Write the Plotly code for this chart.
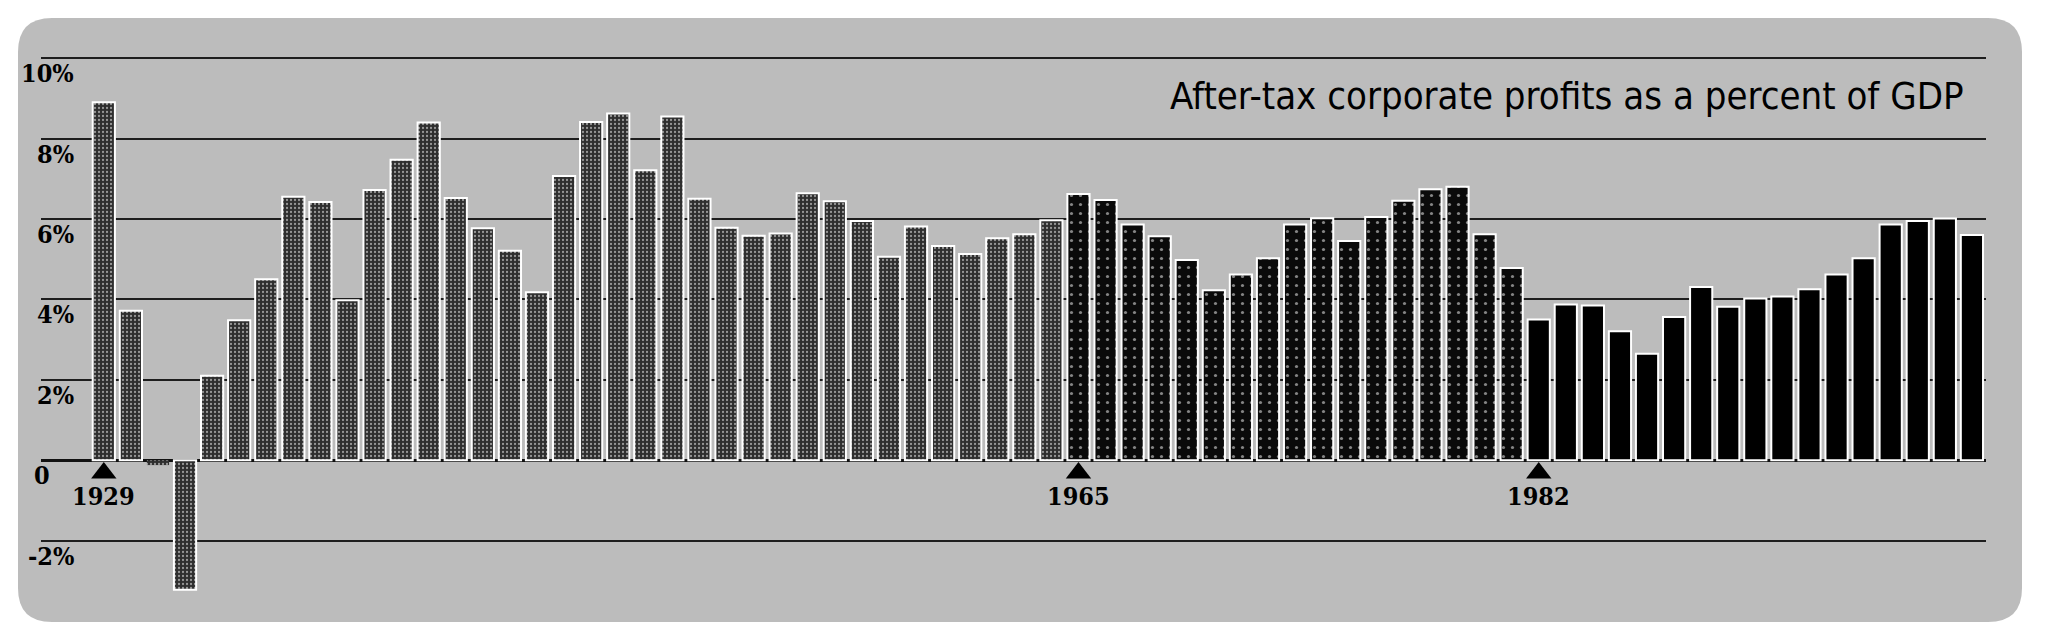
import plotly.graph_objects as go

# after-tax corporate profits, % of GDP
years = list(range(1929, 1999))
profits = [
    8.9, 3.72, -0.12, -3.22, 2.1, 3.48, 4.5, 6.55, 6.42, 3.98,
    6.72, 7.47, 8.4, 6.52, 5.77, 5.21, 4.18, 7.07, 8.41, 8.62,
    7.21, 8.55, 6.5, 5.78, 5.58, 5.64, 6.64, 6.44, 5.95, 5.06,
    5.81, 5.33, 5.13, 5.52, 5.62, 5.97, 6.62, 6.47, 5.86, 5.57,
    4.98, 4.23, 4.62, 5.02, 5.86, 6.02, 5.45, 6.05, 6.45, 6.74,
    6.8, 5.62, 4.78, 3.5, 3.87, 3.85, 3.21, 2.65, 3.56, 4.31,
    3.82, 4.02, 4.07, 4.25, 4.62, 5.02, 5.86, 5.95, 6.01, 5.6,
]
marked_years = [1929, 1965, 1982]

# fill, dot colour, dot size, dot solidity for each era
era_fill = ["#2e2e2e", "#0a0a0a", "#000000"]
era_dots = ["#7a7a7a", "#6a6a6a", "#000000"]
era_dot_size = [4, 9, 4]
era_dot_solid = [0.25, 0.1, 0.0]

tick_vals = [10, 8, 6, 4, 2, 0, -2]
tick_text = ["10%", "8%", "6%", "4%", "2%", "0", "-2%"]

title_text = "After-tax corporate profits as a percent of GDP"


def era_of(y):
    k = 0
    for i, start in enumerate(marked_years):
        if y >= start:
            k = i
    return k


eras = [era_of(y) for y in years]
edge_w = [2 if abs(v) > 0.3 else 0 for v in profits]

W, H = 2048, 623
ml, mr, mt, mb = 33, 70, 30, 30
pw = W - ml - mr
ph = H - mt - mb


def xp(px):
    return (px - ml) / pw


def yp(py):
    return (H - mb - py) / ph


fig = go.Figure()

fig.add_trace(go.Bar(
    x=years, y=profits,
    width=0.82,
    marker=dict(
        color=[era_fill[k] for k in eras],
        line=dict(color="white", width=edge_w),
        pattern=dict(
            shape=["." if era_dot_solid[k] > 0 else "" for k in eras],
            fgcolor=[era_dots[k] for k in eras],
            bgcolor=[era_fill[k] for k in eras],
            size=[era_dot_size[k] for k in eras],
            solidity=[era_dot_solid[k] if era_dot_solid[k] > 0 else 0.3 for k in eras],
            fillmode="overlay",
        ),
    ),
    hoverinfo="x+y",
))

fig.add_trace(go.Scatter(
    x=marked_years, y=[-0.32] * len(marked_years),
    mode="markers",
    marker=dict(symbol="triangle-up", size=22, color="black"),
    hoverinfo="skip",
))

label_font = dict(family="DejaVu Serif Condensed, DejaVu Serif, serif",
                  size=25, color="black")

annotations = []
for v, t in zip(tick_vals, tick_text):
    annotations.append(dict(
        x=xp(68 if t != "0" else 44), xref="paper", xanchor="right",
        y=v, yref="y", yanchor="top", yshift=1,
        text="<b>%s</b>" % t, showarrow=False, font=label_font,
    ))
for y in marked_years:
    annotations.append(dict(
        x=y, xref="x", xanchor="center",
        y=-0.5, yref="y", yanchor="top",
        text="<b>%d</b>" % y, showarrow=False, font=label_font,
    ))
annotations.append(dict(
    x=xp(1958), xref="paper", xanchor="right",
    y=9.05, yref="y", yanchor="middle",
    text=title_text, showarrow=False,
    font=dict(family="DejaVu Sans Condensed, Liberation Sans Narrow, sans-serif",
              size=38, color="black"),
))

# stippled grey card behind the chart
x0, x1, y0, y1, r = 10, 2014, 10, 614, 34
path = ("M {a},{b} L {c},{b} Q {d},{b} {d},{e} L {d},{f} Q {d},{g} {c},{g} "
        "L {a},{g} Q {h},{g} {h},{f} L {h},{e} Q {h},{b} {a},{b} Z").format(
    a=xp(x0 + r), b=yp(y0), c=xp(x1 - r), d=xp(x1), e=yp(y0 + r),
    f=yp(y1 - r), g=yp(y1), h=xp(x0))

fig.update_layout(
    width=W, height=H,
    margin=dict(l=ml, r=mr, t=mt, b=mb),
    paper_bgcolor="white",
    plot_bgcolor="rgba(0,0,0,0)",
    showlegend=False,
    shapes=[dict(type="path", path=path, xref="paper", yref="paper",
                 fillcolor="#bcbcbc", line=dict(width=0), layer="below")],
    annotations=annotations,
    xaxis=dict(range=[1926.68, 1998.52], showticklabels=False, showgrid=False,
               zeroline=False, showline=False, ticks=""),
    yaxis=dict(range=[-3.5, 10.5], tickvals=tick_vals, showticklabels=False,
               showgrid=True, gridcolor="#1e1e1e", gridwidth=2,
               zeroline=True, zerolinecolor="#111111", zerolinewidth=3,
               showline=False, ticks=""),
)

fig.write_html("out.html")
